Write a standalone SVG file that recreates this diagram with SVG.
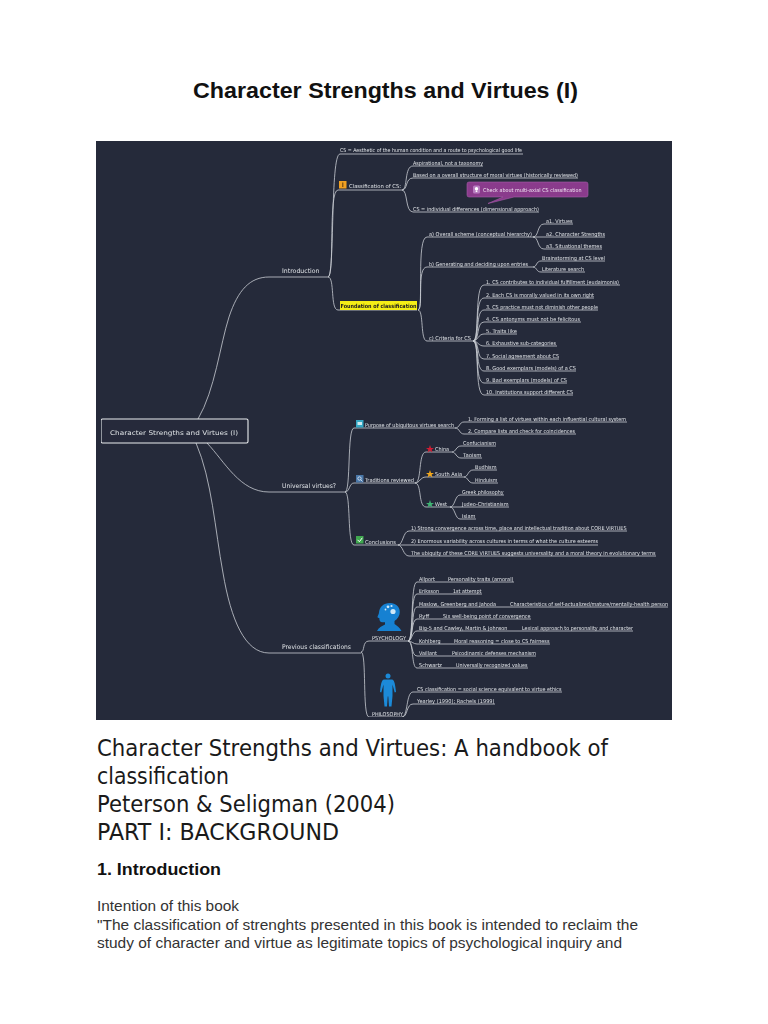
<svg xmlns="http://www.w3.org/2000/svg" width="768" height="1024" viewBox="0 0 768 1024">
<style>
.t{font-family:"DejaVu Sans",sans-serif;font-size:5.3px;fill:#dfe2e6}
.b{font-family:"DejaVu Sans",sans-serif;font-size:6.4px;fill:#dfe2e6}
.c{fill:none;stroke:#c9cdd3;stroke-width:.8}
.h{font-family:"DejaVu Sans",sans-serif;font-size:23px;fill:#1a1a1a}
.p{font-family:"Liberation Sans",Arial,sans-serif;font-size:14.5px;fill:#333}
</style>
<defs><filter id="soft" x="0" y="0" width="1" height="1"><feGaussianBlur stdDeviation="0.22"/></filter></defs>
<rect width="768" height="1024" fill="#fff"/>
<text id="title" x="193" y="98" textLength="385" lengthAdjust="spacingAndGlyphs" font-family="Liberation Sans, Arial, sans-serif" font-size="22" font-weight="700" fill="#111">Character Strengths and Virtues (I)</text>
<rect x="96" y="141" width="576" height="579" fill="#252a3a"/>
<g id="map" filter="url(#soft)">
<g id="connectors" class="c">
<path d="M198 419C215 390 220 345 229 317C238 290 250 277 269 277H328"/>
<path d="M207 443C225 462 240 492 269 492H345"/>
<path d="M196 443C212 480 215 530 223 573C231 620 245 653 269 653H361"/>
<path d="M328 277C335 277 330 154 340 154H523"/>
<path d="M328 277C335 277 328 190 338 190H402"/>
<path d="M328 277C335 277 330 310 338 310H417"/>
<path d="M402 190C408 190 404 166 413 166H483"/>
<path d="M402 190C408 190 405 178 413 178H578"/>
<path d="M402 190C408 190 405 212 413 212H539"/>
<path d="M418 310C424 310 416 237 427 237H533"/>
<path d="M418 310C424 310 416 267 427 267H533"/>
<path d="M418 310C424 310 420 341 427 341H473"/>
<path d="M533 237C539 237 537 224 544 224H573"/>
<path d="M533 237H605"/>
<path d="M533 237C539 237 537 249 544 249H602"/>
<path d="M533 267C537 267 536 261 541 261H605"/>
<path d="M533 267C537 267 536 272 541 272H585"/>
<path d="M473 341C480 341 474 285 484 285H620"/>
<path d="M473 341C480 341 474 298 484 298H594"/>
<path d="M473 341C480 341 475 310 484 310H598"/>
<path d="M473 341C480 341 476 322 484 322H581"/>
<path d="M473 341C478 341 478 334 484 334H517"/>
<path d="M473 341C478 341 478 346 484 346H557"/>
<path d="M473 341C480 341 476 359 484 359H559"/>
<path d="M473 341C480 341 475 371 484 371H576"/>
<path d="M473 341C480 341 474 383 484 383H567"/>
<path d="M473 341C480 341 474 395 484 395H573"/>
<path d="M345 492C351 492 347 428 354 428H455"/>
<path d="M345 492C350 492 349 483 354 483H415"/>
<path d="M345 492C351 492 347 545 354 545H398"/>
<path d="M455 428C460 428 459 422 464 422H627"/>
<path d="M455 428C460 428 459 434 464 434H576"/>
<path d="M415 483C422 483 418 452 426 452H452"/>
<path d="M415 483C420 483 420 477 426 477H464"/>
<path d="M415 483C422 483 418 507 426 507H450"/>
<path d="M452 452C456 452 456 446 461 446H496"/>
<path d="M452 452C456 452 456 458 461 458H482"/>
<path d="M464 477C468 477 468 470 473 470H497"/>
<path d="M464 477C468 477 468 483 473 483H498"/>
<path d="M450 507C455 507 455 495 460 495H504"/>
<path d="M450 507H509"/>
<path d="M450 507C455 507 455 519 460 519H476"/>
<path d="M398 545C403 545 403 531 409 531H627"/>
<path d="M398 545H598"/>
<path d="M398 545C403 545 403 556 409 556H656"/>
<path d="M361 652C365 652 362 641 369 641H408"/>
<path d="M361 652C367 652 362 717 369 717H402"/>
<path d="M408 641C414 641 410 582 417 582H514"/>
<path d="M408 641C414 641 410 594 417 594H482"/>
<path d="M408 641C414 641 411 607 417 607H668"/>
<path d="M408 641C413 641 411 619 417 619H531"/>
<path d="M408 641C412 641 412 631 417 631H633"/>
<path d="M408 641C412 641 413 644 417 644H550"/>
<path d="M408 641C413 641 411 656 417 656H536"/>
<path d="M408 641C414 641 411 668 417 668H528"/>
<path d="M402 717C408 717 406 692 413 692H562"/>
<path d="M402 717C408 717 406 704 413 704H495"/>
</g>
<g id="central"><rect x="101" y="419" width="147" height="24" rx="1.5" fill="#252a3a" stroke="#eceef0" stroke-width="1.1"/><text class="b" x="110" y="435" textLength="128" lengthAdjust="spacingAndGlyphs">Character Strengths and Virtues (I)</text></g>
<g id="introduction"><text class="b" x="282" y="273" textLength="37.500" lengthAdjust="spacingAndGlyphs">Introduction</text></g>
<g id="universal"><text class="b" x="282" y="488" textLength="54" lengthAdjust="spacingAndGlyphs">Universal virtues?</text></g>
<g id="previous"><text class="b" x="282" y="649" textLength="69" lengthAdjust="spacingAndGlyphs">Previous classifications</text></g>
<g id="cs-def"><text class="t" x="340" y="152" textLength="182" lengthAdjust="spacingAndGlyphs">CS = Aesthetic of the human condition and a route to psychological good life</text></g>
<g id="classification"><rect x="339" y="181" width="7.500" height="7.500" fill="#f0a020"/><rect x="342.300" y="182.500" width="1" height="4.500" fill="#5b3b10"/><text class="t" x="349" y="188" textLength="52" lengthAdjust="spacingAndGlyphs">Classification of CS:</text></g>
<g id="n-asp"><text class="t" x="413" y="164.500" textLength="70" lengthAdjust="spacingAndGlyphs">Aspirational, not a taxonomy</text></g>
<g id="n-based"><text class="t" x="413" y="176.500" textLength="165" lengthAdjust="spacingAndGlyphs">Based on a overall structure of moral virtues (historically reviewed)</text></g>
<g id="n-callout"><path d="M469 182H586a2 2 0 0 1 2 2V195a2 2 0 0 1-2 2H514L488 203.500L503 197H469a2 2 0 0 1-2-2V184a2 2 0 0 1 2-2Z" fill="#8a3b8c" stroke="#a65aa8" stroke-width=".6"/><rect x="473" y="185.500" width="7" height="8" rx="1.500" fill="#b87cc0"/><circle cx="476.500" cy="188.700" r="1.700" fill="#fff"/><rect x="475.700" y="190.500" width="1.600" height="1.500" fill="#fff"/><text class="t" x="483" y="191.500" textLength="98.500" lengthAdjust="spacingAndGlyphs" style="fill:#f0e4f2">Check about multi-axial CS classification</text></g>
<g id="n-indiv"><text class="t" x="413" y="210.500" textLength="126" lengthAdjust="spacingAndGlyphs">CS = individual differences (dimensional approach)</text></g>
<g id="foundation"><rect x="340" y="301" width="77" height="9" fill="#f5ee12"/><text x="340.500" y="308" textLength="76" lengthAdjust="spacingAndGlyphs" font-family="DejaVu Sans, sans-serif" font-size="5.600" font-weight="700" fill="#222">Foundation of classification</text></g>
<g id="n-a"><text class="t" x="429" y="235.500" textLength="103" lengthAdjust="spacingAndGlyphs">a) Overall scheme (conceptual hierarchy)</text></g>
<g id="n-a1"><text class="t" x="546" y="222.500" textLength="26.500" lengthAdjust="spacingAndGlyphs">a1. Virtues</text></g>
<g id="n-a2"><text class="t" x="546" y="235.500" textLength="59" lengthAdjust="spacingAndGlyphs">a2. Character Strengths</text></g>
<g id="n-a3"><text class="t" x="546" y="247.500" textLength="56" lengthAdjust="spacingAndGlyphs">a3. Situational themes</text></g>
<g id="n-b"><text class="t" x="429" y="265.500" textLength="99" lengthAdjust="spacingAndGlyphs">b) Generating and deciding upon entries</text></g>
<g id="n-b1"><text class="t" x="542" y="259.500" textLength="63" lengthAdjust="spacingAndGlyphs">Brainstorming at CS level</text></g>
<g id="n-b2"><text class="t" x="542" y="270.500" textLength="42" lengthAdjust="spacingAndGlyphs">Literature search</text></g>
<g id="n-c"><text class="t" x="429" y="339.500" textLength="42" lengthAdjust="spacingAndGlyphs">c) Criteria for CS</text></g>
<g id="c1"><text class="t" x="486" y="283.500" textLength="133" lengthAdjust="spacingAndGlyphs">1. CS contributes to individual fulfillment (eudaimonia)</text></g>
<g id="c2"><text class="t" x="486" y="296.500" textLength="108" lengthAdjust="spacingAndGlyphs">2. Each CS is morally valued in its own right</text></g>
<g id="c3"><text class="t" x="486" y="308.500" textLength="112" lengthAdjust="spacingAndGlyphs">3. CS practice must not diminish other people</text></g>
<g id="c4"><text class="t" x="486" y="320.500" textLength="94" lengthAdjust="spacingAndGlyphs">4. CS antonyms must not be felicitous</text></g>
<g id="c5"><text class="t" x="486" y="332.500" textLength="31" lengthAdjust="spacingAndGlyphs">5. Traits like</text></g>
<g id="c6"><text class="t" x="486" y="344.500" textLength="70" lengthAdjust="spacingAndGlyphs">6. Exhaustive sub-categories</text></g>
<g id="c7"><text class="t" x="486" y="357.500" textLength="73" lengthAdjust="spacingAndGlyphs">7. Social agreement about CS</text></g>
<g id="c8"><text class="t" x="486" y="369.500" textLength="90" lengthAdjust="spacingAndGlyphs">8. Good exemplars (models) of a CS</text></g>
<g id="c9"><text class="t" x="486" y="381.500" textLength="81" lengthAdjust="spacingAndGlyphs">9. Bad exemplars (models) of CS</text></g>
<g id="c10"><text class="t" x="486" y="393.500" textLength="87" lengthAdjust="spacingAndGlyphs">10. Institutions support different CS</text></g>
<g id="purpose"><rect x="356" y="420" width="7.500" height="7.500" fill="#35a8c4"/><rect x="357.500" y="422" width="4.500" height="3" fill="#cfeaf0"/><text class="t" x="365" y="426.500" textLength="89" lengthAdjust="spacingAndGlyphs">Purpose of ubiquitous virtues search</text></g>
<g id="p1"><text class="t" x="468" y="420.500" textLength="158" lengthAdjust="spacingAndGlyphs">1. Forming a list of virtues within each influential cultural system</text></g>
<g id="p2"><text class="t" x="468" y="432.500" textLength="107" lengthAdjust="spacingAndGlyphs">2. Compare lists and check for coincidences</text></g>
<g id="traditions"><rect x="356" y="475" width="7.500" height="7.500" fill="#4a77a8"/><circle cx="359.500" cy="478.500" r="1.700" fill="none" stroke="#e6eef6" stroke-width=".8"/><path d="M360.700 479.700L362.500 481.500" stroke="#e6eef6" stroke-width=".8"/><text class="t" x="365" y="481.500" textLength="49" lengthAdjust="spacingAndGlyphs">Traditions reviewed</text></g>
<g id="china"><polygon points="430,445 431,448 434,448 431.600,449.800 432.500,452.500 430,450.800 427.500,452.500 428.400,449.800 426,448 429,448" fill="#d01f35"/><text class="t" x="435" y="450.500" textLength="14" lengthAdjust="spacingAndGlyphs">China</text></g>
<g id="confucianism"><text class="t" x="463" y="444.500" textLength="33" lengthAdjust="spacingAndGlyphs">Confucianism</text></g>
<g id="taoism"><text class="t" x="463" y="456.500" textLength="18.500" lengthAdjust="spacingAndGlyphs">Taoism</text></g>
<g id="south-asia"><polygon points="430,470 431,473 434,473 431.600,474.800 432.500,477.500 430,475.800 427.500,477.500 428.400,474.800 426,473 429,473" fill="#f2a81d"/><text class="t" x="435" y="475.500" textLength="27" lengthAdjust="spacingAndGlyphs">South Asia</text></g>
<g id="budhism"><text class="t" x="475" y="468.500" textLength="21.500" lengthAdjust="spacingAndGlyphs">Budhism</text></g>
<g id="hinduism"><text class="t" x="475" y="481.500" textLength="22.500" lengthAdjust="spacingAndGlyphs">Hinduism</text></g>
<g id="west"><polygon points="430,500 431,503 434,503 431.600,504.800 432.500,507.500 430,505.800 427.500,507.500 428.400,504.800 426,503 429,503" fill="#3fb573"/><text class="t" x="435" y="505.500" textLength="12" lengthAdjust="spacingAndGlyphs">West</text></g>
<g id="greek"><text class="t" x="462" y="493.500" textLength="41.500" lengthAdjust="spacingAndGlyphs">Greek philosophy</text></g>
<g id="judeo"><text class="t" x="462" y="505.500" textLength="46.500" lengthAdjust="spacingAndGlyphs">Judeo-Christianism</text></g>
<g id="islam"><text class="t" x="462" y="517.500" textLength="13.500" lengthAdjust="spacingAndGlyphs">Islam</text></g>
<g id="conclusions"><rect x="356" y="536" width="7.500" height="7.500" fill="#3fa84f"/><path d="M357.500 539.800L359.400 541.700L362.300 537.800" fill="none" stroke="#fff" stroke-width="1"/><text class="t" x="365" y="543.500" textLength="31" lengthAdjust="spacingAndGlyphs">Conclusions</text></g>
<g id="r1"><text class="t" x="411" y="529.500" textLength="215.500" lengthAdjust="spacingAndGlyphs">1) Strong convergence across time, place and intellectual tradition about CORE VIRTUES</text></g>
<g id="r2"><text class="t" x="411" y="542.500" textLength="187" lengthAdjust="spacingAndGlyphs">2) Enormous variability across cultures in terms of what the culture esteems</text></g>
<g id="r3"><text class="t" x="411" y="554.500" textLength="244.500" lengthAdjust="spacingAndGlyphs">The ubiquity of these CORE VIRTUES suggests universality and a moral theory in evolutionary terms</text></g>
<g id="psychology"><path d="M390 603C383.500 603 379.500 607 379 612.500C378.900 614.500 377.200 616.500 377.600 617.400L379.400 618.200C379.200 620.500 380 622.200 382.500 622.200H385V624.500C382 626 378.500 627.500 377 631H401.500C400 627.500 396.500 625.500 394.500 624V621C397.800 619 399.800 615.500 399.800 612C399.800 606.500 395.500 603 390 603Z" fill="#1681d2"/><circle cx="393" cy="611.500" r="2.600" fill="#cfe8f8"/><circle cx="388" cy="606.800" r="1.400" fill="#cfe8f8"/><circle cx="391.500" cy="606" r="1.100" fill="#cfe8f8"/><circle cx="385.500" cy="609.500" r=".9" fill="#cfe8f8"/><text class="t" x="372" y="639.500" textLength="34" lengthAdjust="spacingAndGlyphs">PSYCHOLOGY</text></g>
<g id="allport"><text class="t" x="419" y="580.500" textLength="16" lengthAdjust="spacingAndGlyphs">Allport</text><text class="t" x="448" y="580.500" textLength="65.500" lengthAdjust="spacingAndGlyphs">Personality traits (amoral)</text></g>
<g id="eriksson"><text class="t" x="419" y="592.500" textLength="20" lengthAdjust="spacingAndGlyphs">Eriksson</text><text class="t" x="453" y="592.500" textLength="28.500" lengthAdjust="spacingAndGlyphs">1st attempt</text></g>
<g id="maslow"><text class="t" x="419" y="605.500" textLength="77" lengthAdjust="spacingAndGlyphs">Maslow, Greenberg and Jahoda</text><text class="t" x="510" y="605.500" textLength="158" lengthAdjust="spacingAndGlyphs">Characteristics of self-actualized/mature/mentally-health person</text></g>
<g id="ryff"><text class="t" x="419" y="617.500" textLength="10" lengthAdjust="spacingAndGlyphs">Ryff</text><text class="t" x="443" y="617.500" textLength="87.500" lengthAdjust="spacingAndGlyphs">Six well-being point of convergence</text></g>
<g id="big5"><text class="t" x="419" y="629.500" textLength="88.500" lengthAdjust="spacingAndGlyphs">Big-5 and Cawley, Martin &amp; Johnson</text><text class="t" x="522" y="629.500" textLength="111" lengthAdjust="spacingAndGlyphs">Lexical approach to personality and character</text></g>
<g id="kohlberg"><text class="t" x="419" y="642.500" textLength="21.500" lengthAdjust="spacingAndGlyphs">Kohlberg</text><text class="t" x="454" y="642.500" textLength="95.500" lengthAdjust="spacingAndGlyphs">Moral reasoning = close to CS fairness</text></g>
<g id="vaillant"><text class="t" x="419" y="654.500" textLength="18" lengthAdjust="spacingAndGlyphs">Vaillant</text><text class="t" x="452" y="654.500" textLength="84" lengthAdjust="spacingAndGlyphs">Psicodinamic defenses mechanism</text></g>
<g id="schwartz"><text class="t" x="419" y="666.500" textLength="23" lengthAdjust="spacingAndGlyphs">Schwartz</text><text class="t" x="456" y="666.500" textLength="71.500" lengthAdjust="spacingAndGlyphs">Universally recognized values</text></g>
<g id="philosophy"><circle cx="388" cy="676" r="2.500" fill="#1a8ad8"/><path d="M384 679.500H392C394 680 395 682 396 692L394.700 692.500L392.500 684.500V696L391.500 706.500H389L388.300 696.500H387.700L387 706.500H384.500L383.500 696V684.500L381.300 692.500L380 692C381 682 382 680 384 679.500Z" fill="#1a8ad8"/><text class="t" x="372" y="715.500" textLength="31" lengthAdjust="spacingAndGlyphs">PHILOSOPHY</text></g>
<g id="ph1"><text class="t" x="417" y="690.500" textLength="144.500" lengthAdjust="spacingAndGlyphs">CS classification = social science equivalent to virtue ethics</text></g>
<g id="ph2"><text class="t" x="417" y="702.500" textLength="77.500" lengthAdjust="spacingAndGlyphs">Yearley (1990); Rachels (1999)</text></g>
</g>
<g id="page-heading">
<text class="h" x="97" y="756" textLength="511" lengthAdjust="spacingAndGlyphs">Character Strengths and Virtues: A handbook of</text>
<text class="h" x="97" y="784" textLength="132" lengthAdjust="spacingAndGlyphs">classification</text>
<text class="h" x="97" y="812" textLength="298" lengthAdjust="spacingAndGlyphs">Peterson &amp; Seligman (2004)</text>
<text class="h" x="97" y="840" textLength="242" lengthAdjust="spacingAndGlyphs">PART I: BACKGROUND</text>
</g>
<g id="page-body">
<text x="97" y="875" textLength="124" lengthAdjust="spacingAndGlyphs" font-family="Liberation Sans, Arial, sans-serif" font-size="16" font-weight="700" fill="#111">1. Introduction</text>
<text class="p" x="97" y="911" textLength="142" lengthAdjust="spacingAndGlyphs">Intention of this book</text>
<text class="p" x="97" y="930" textLength="541" lengthAdjust="spacingAndGlyphs">"The classification of strenghts presented in this book is intended to reclaim the</text>
<text class="p" x="97" y="948" textLength="525" lengthAdjust="spacingAndGlyphs">study of character and virtue as legitimate topics of psychological inquiry and</text>
</g>
</svg>
